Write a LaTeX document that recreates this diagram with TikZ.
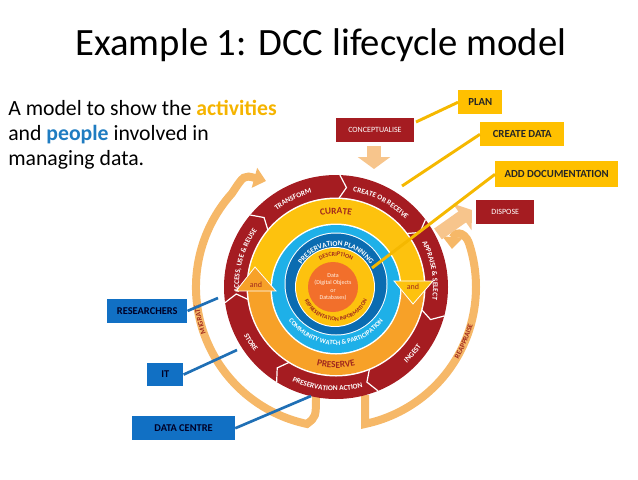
\documentclass[tikz,border=0pt]{standalone}
\usepackage{fontspec}
\setmainfont{Carlito}
\usetikzlibrary{decorations.text,arrows.meta}
\definecolor{dred}{HTML}{A51C21}
\definecolor{cyel}{HTML}{FDC20E}
\definecolor{cora}{HTML}{F7A128}
\definecolor{lblue}{HTML}{1EB0E8}
\definecolor{dblue}{HTML}{0B6CB1}
\definecolor{dataor}{HTML}{F26F2B}
\definecolor{boxblue}{HTML}{1170C4}
\definecolor{boxyel}{HTML}{FFC000}
\definecolor{pale}{HTML}{F6B868}
\definecolor{palearr}{HTML}{F7C58C}
\definecolor{txtred}{HTML}{A0281E}
\definecolor{gold}{HTML}{F5B400}
\definecolor{pblue}{HTML}{1F7CC1}
\definecolor{linkblue}{HTML}{1F6FB5}
\definecolor{linkyel}{HTML}{F5B800}
\tikzset{
 redbox/.style={fill=dred,text=white,font=\fontsize{6}{7}\selectfont,inner sep=0pt,anchor=north west},
 yelbox/.style={fill=boxyel,text=black!85,font=\bfseries\fontsize{8.1}{9}\selectfont,inner sep=0pt,anchor=north west},
 bluebox/.style={fill=boxblue,text=black!85!blue,font=\bfseries\fontsize{7.8}{9}\selectfont,inner sep=0pt,anchor=north west},
 ylink/.style={draw=linkyel,line width=2.2pt},
 blink/.style={draw=linkblue,line width=2pt},
 ringtext/.style={decorate,decoration={text along path,text align=center,text color=white}},
 cycarrow/.style={draw=pale,line width=6pt,-{Triangle[width=15pt,length=9pt]}},
 blockarrow/.style={draw=palearr,line width=10pt,-{Triangle[width=24pt,length=9pt]}},
 subt/.style={anchor=base west,inner sep=0pt,font=\fontsize{16.3}{19}\selectfont},
}
\begin{document}
\begin{tikzpicture}[x=0.75pt,y=-0.75pt]
\useasboundingbox (0,0) rectangle (638,479);
\node[font=\fontsize{29}{32}\selectfont] (title) at (321,45) {Example 1: DCC lifecycle model};
\node[subt] (s1) at (8,115) {A model to show the \textcolor{gold}{\bfseries activities}};
\node[subt] (s2) at (8,140) {and \textcolor{pblue}{\bfseries people} involved in};
\node[subt] (s3) at (8,165) {managing data.};

% boxes
\node[yelbox,minimum width=33pt,minimum height=18pt] (plan) at (458,90) {PLAN};
\node[redbox,minimum width=58pt,minimum height=18pt] (conc) at (336,118) {CONCEPTUALISE};
\node[yelbox,minimum width=63pt,minimum height=18pt] (cdata) at (480,122) {CREATE DATA};
\node[yelbox,minimum width=92pt,minimum height=19.5pt] (adoc) at (495,161) {ADD DOCUMENTATION};
\node[redbox,minimum width=43.5pt,minimum height=18pt] (disp) at (476,200) {DISPOSE};
\node[bluebox,minimum width=60pt,minimum height=17.5pt] (res) at (107,299) {RESEARCHERS};
\node[bluebox,minimum width=27pt,minimum height=17pt] (it) at (147,363) {IT};
\node[bluebox,minimum width=77pt,minimum height=18pt] (dc) at (132,416) {DATA CENTRE};

% cycle arrows
\begin{scope}[shift={(336,287)}]
\draw[cycarrow] (-20,108) .. controls (-20,130) .. (102:140) arc (102:222:140) .. controls (-92,-112) .. (-70,-106);
\draw[cycarrow] (29,108) .. controls (29,130) .. (78:140) arc (78:-18:140) .. controls (128,-58) and (117,-54) .. (116,-38);
\path[decorate,decoration={text along path,text align=center,text color=txtred,text={|\bfseries\fontsize{5.5}{5.5}\selectfont|MIGRATE}}] (155:138) arc (155:178:138);
\path[decorate,decoration={text along path,text align=center,text color=txtred,text={|\bfseries\fontsize{5.5}{5.5}\selectfont|REAPPRAISE}}] (38:142) arc (38:8:142);
\end{scope}
\coordinate (ca) at (374,146);
\coordinate (cb) at (374,169);
\draw[blockarrow] (ca) -- (cb);
\coordinate (da) at (438,234);
\coordinate (db) at (472,210);
\draw[blockarrow] (da) -- (db);

% rings
\begin{scope}[shift={(336,287)}]
\fill[dred] (0,0) circle (112);
\foreach \a in {-88,-37,15,68,122,172,220}{
 \draw[white,line width=0.9pt] (\a:89) -- (\a+4:100) -- (\a:112);
}
\fill[white] (0,0) circle (89.5);
\fill[cyel] (180:88) arc (180:360:88) -- cycle;
\fill[cora] (0:88) arc (0:180:88) -- cycle;
\fill[white] (0,2) circle (65.5);
\fill[lblue] (0,2) circle (64);
\fill[white] (0,-3) circle (51.5);
\fill[dblue] (0,-3) circle (50.5);
\fill[white] (-1,0) circle (40);
\fill[cyel] (-1,0) circle (39);
\fill[dataor] (-3,0) circle (25);
% and arrows
\fill[cora,draw=white,line width=0.6pt] (-100,4) -- (-81,-20) -- (-60,4) -- cycle;
\node[font=\fontsize{6}{6}\selectfont,text=txtred] (and1) at (-80,-2) {and};
\fill[cyel,draw=white,line width=0.6pt] (58,-6) -- (77,17) -- (97,-6) -- cycle;
\node[font=\fontsize{6}{6}\selectfont,text=txtred] (and2) at (77,0) {and};
% ring texts
\path[ringtext,decoration={text={|\bfseries\fontsize{5.5}{5.5}\selectfont|CREATE OR RECEIVE}}] (-86:97) arc (-86:-38:97);
\path[ringtext,decoration={text={|\bfseries\fontsize{5.5}{5.5}\selectfont|APPRAISE {\&} SELECT}}] (-34:97) arc (-34:14:97);
\path[ringtext,decoration={text={|\bfseries\fontsize{5.5}{5.5}\selectfont|INGEST}}] (66:104) arc (66:16:104);
\path[ringtext,decoration={text={|\bfseries\fontsize{5.5}{5.5}\selectfont|PRESERVATION ACTION}}] (121:104) arc (121:69:104);
\path[ringtext,decoration={text={|\bfseries\fontsize{5.5}{5.5}\selectfont|STORE}}] (171:104) arc (171:123:104);
\path[ringtext,decoration={text={|\bfseries\fontsize{5.5}{5.5}\selectfont|ACCESS, USE {\&} REUSE}}] (173:97) arc (173:219:97);
\path[ringtext,decoration={text={|\bfseries\fontsize{5.5}{5.5}\selectfont|TRANSFORM}}] (221:97) arc (221:267:97);
\path[ringtext,decoration={text color=txtred,text={|\bfseries\fontsize{7}{7}\selectfont|CURATE}}] (240:73) arc (240:300:73);
\path[ringtext,decoration={text color=txtred,text={|\bfseries\fontsize{7}{7}\selectfont|PRESERVE}}] (125:81) arc (125:55:81);
\path[ringtext,decoration={text={|\bfseries\fontsize{5.5}{5.5}\selectfont|PRESERVATION PLANNING}}] (205:41) arc (205:335:41);
\path[ringtext,decoration={text={|\bfseries\fontsize{5}{5}\selectfont|COMMUNITY WATCH {\&} PARTICIPATION}}] (155:58) arc (155:25:58);
\path[ringtext,decoration={text color=txtred,text={|\bfseries\fontsize{4.5}{4.5}\selectfont|DESCRIPTION}}] (235:31) arc (235:305:31);
\path[ringtext,decoration={text color=txtred,text={|\bfseries\fontsize{4.3}{4.3}\selectfont|REPRESENTATION INFORMATION}}] (170:34) arc (170:10:34);
\node[align=center,text=white!90!orange,font=\fontsize{4.5}{5.5}\selectfont] (data) at (-3,0) {Data\\(Digital Objects\\or\\Databases)};
\end{scope}

% links
\coordinate (p1) at (416,122);
\draw[ylink] (p1) -- (plan.west);
\coordinate (p2) at (402,186);
\draw[ylink] (p2) -- (cdata.west);
\coordinate (p3) at (372,268);
\draw[ylink] (p3) -- (adoc.west);
\coordinate (q1) at (218,298);
\draw[blink] (res.east) -- (q1);
\coordinate (q2) at (237,350);
\draw[blink] (it.east) -- (q2);
\coordinate (q3) at (311,396);
\draw[blink] (dc.east) -- (q3);
\end{tikzpicture}
\end{document}
